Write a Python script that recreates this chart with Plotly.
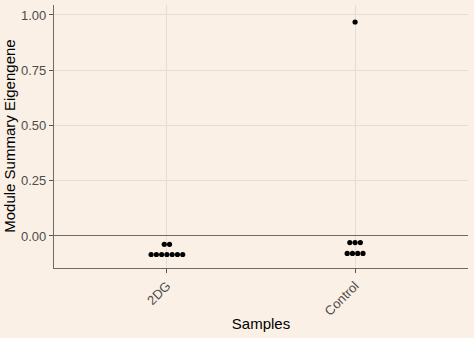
import plotly.graph_objects as go

categories = ["2DG", "Control"]
values_2dg = [-0.038, -0.038, -0.084, -0.084, -0.084, -0.084, -0.084, -0.084, -0.084]
values_control = [0.968, -0.030, -0.030, -0.030, -0.079, -0.079, -0.079, -0.079]
y_ticks = [0.0, 0.25, 0.5, 0.75, 1.0]
y_ticklabels = ["0.00", "0.25", "0.50", "0.75", "1.00"]

STEP = 0.028  # horizontal spacing between stacked dots (layout only)


def swarm(center, vals):
    rows = {}
    for v in vals:
        rows.setdefault(round(v, 3), []).append(v)
    xs, ys = [], []
    for key, vs in rows.items():
        n = len(vs)
        for i, v in enumerate(vs):
            xs.append(center + (i - (n - 1) / 2) * STEP)
            ys.append(v)
    return xs, ys


fig = go.Figure()
for idx, vals in enumerate([values_2dg, values_control]):
    xs, ys = swarm(idx, vals)
    fig.add_trace(go.Scatter(x=xs, y=ys, mode="markers",
                             marker=dict(color="black", size=5.2),
                             showlegend=False, hoverinfo="skip"))

bg = "#faf0e6"
fig.update_layout(
    width=474, height=338,
    margin=dict(l=54, r=6, t=5, b=70),
    paper_bgcolor=bg, plot_bgcolor=bg,
    font=dict(family="Liberation Sans, Arial, sans-serif", color="black"),
    xaxis=dict(
        range=[-0.6, 1.6], tickvals=[0, 1], ticktext=categories,
        tickangle=-45, showgrid=True, gridcolor="#e3ddd6", gridwidth=1,
        showline=True, linecolor="#6e6a66", linewidth=1.2,
        ticks="outside", ticklen=4, tickcolor="#555555",
        tickfont=dict(size=13, color="#4d4d4d"), zeroline=False,
        title=dict(text="Samples", font=dict(size=15, color="black"), standoff=0),
    ),
    yaxis=dict(
        range=[-0.145, 1.045], tickvals=y_ticks, ticktext=y_ticklabels,
        showgrid=True, gridcolor="#e3ddd6", gridwidth=1,
        showline=True, linecolor="#6e6a66", linewidth=1.2,
        ticks="outside", ticklen=4, tickcolor="#555555",
        tickfont=dict(size=13, color="#4d4d4d"),
        zeroline=True, zerolinecolor="#6e6a66", zerolinewidth=1.2,
    ),
    annotations=[dict(
        text="Module Summary Eigengene", textangle=-90,
        xref="paper", yref="paper", x=-0.108, y=0.5,
        xanchor="center", yanchor="middle", showarrow=False,
        font=dict(size=15, color="black"),
    )],
)

fig.write_html("out.html")
